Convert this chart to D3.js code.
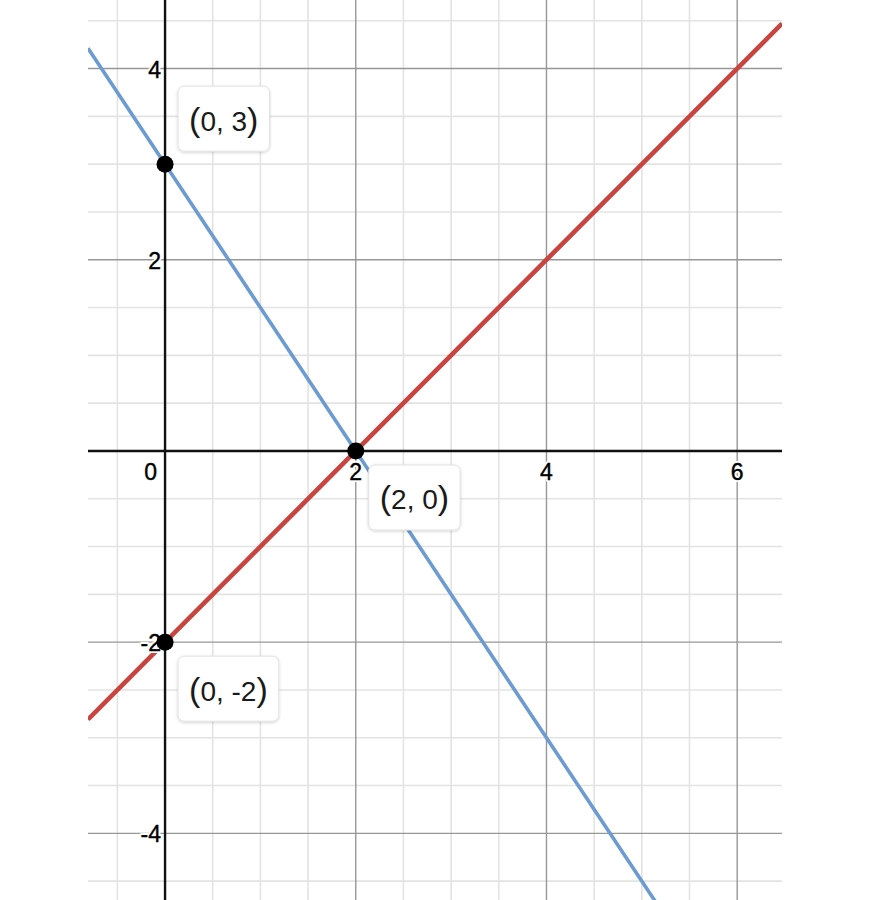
<!DOCTYPE html>
<html>
<head>
<meta charset="utf-8">
<script src="https://cdn.jsdelivr.net/npm/d3@7"></script>
<style>
  body { margin: 0; background: #fff; }
</style>
</head>
<body>
<script>
// view window (graph units)
var xDomain = [-0.808, 6.47];
var yDomain = [4.717, -4.697];

var xTicks = [0, 2, 4, 6];
var yTicks = [4, 2, -2, -4];

// lines y = m*x + b
var lineNames = ["blue", "red"];
var slopes = [-1.5, 1];
var intercepts = [3, -2];
var lineColors = ["#6b9bd1", "#c9433f"];
var lineWidths = [3.6, 4.6];

// labelled points
var pointX = [0, 2, 0];
var pointY = [3, 0, -2];
var pointText = ["0, 3", "2, 0", "0, -2"];
var pointSide = ["above", "below", "below"];

var W = 870, H = 900;
var left = 88, right = 782;
var font = "'Liberation Sans', Arial, sans-serif";

var x = d3.scaleLinear().domain(xDomain).range([left, right]);
var y = d3.scaleLinear().domain(yDomain).range([0, H]);

var svg = d3.select("body").append("svg")
    .attr("width", W)
    .attr("height", H);

var defs = svg.append("defs");
defs.append("clipPath").attr("id", "clip")
    .append("rect").attr("x", left).attr("y", 0).attr("width", right - left).attr("height", H);
var f = defs.append("filter").attr("id", "shadow").attr("x", "-20%").attr("y", "-20%").attr("width", "140%").attr("height", "140%");
f.append("feDropShadow").attr("dx", 0).attr("dy", 1).attr("stdDeviation", 1.5).attr("flood-color", "#000").attr("flood-opacity", 0.18);

var plot = svg.append("g").attr("clip-path", "url(#clip)");

// minor grid every 0.5
var minorX = d3.range(-0.5, 6.51, 0.5).filter(function(v) { return v % 2 !== 0; });
var minorY = d3.range(-4.5, 4.51, 0.5).filter(function(v) { return v % 2 !== 0; });
var majorX = [-2, 2, 4, 6];
var majorY = [-4, -2, 2, 4];

plot.append("g").selectAll("line")
    .data(minorX)
    .enter().append("line")
    .attr("x1", function(d) { return x(d); })
    .attr("x2", function(d) { return x(d); })
    .attr("y1", 0).attr("y2", H)
    .attr("stroke", "#e3e3e3").attr("stroke-width", 1.6);

plot.append("g").selectAll("line")
    .data(minorY)
    .enter().append("line")
    .attr("y1", function(d) { return y(d); })
    .attr("y2", function(d) { return y(d); })
    .attr("x1", left).attr("x2", right)
    .attr("stroke", "#e3e3e3").attr("stroke-width", 1.6);

plot.append("g").selectAll("line")
    .data(majorX)
    .enter().append("line")
    .attr("x1", function(d) { return x(d); })
    .attr("x2", function(d) { return x(d); })
    .attr("y1", 0).attr("y2", H)
    .attr("stroke", "#979797").attr("stroke-width", 1.4);

plot.append("g").selectAll("line")
    .data(majorY)
    .enter().append("line")
    .attr("y1", function(d) { return y(d); })
    .attr("y2", function(d) { return y(d); })
    .attr("x1", left).attr("x2", right)
    .attr("stroke", "#979797").attr("stroke-width", 1.4);

// axes
plot.append("line")
    .attr("x1", left).attr("x2", right)
    .attr("y1", y(0)).attr("y2", y(0))
    .attr("stroke", "#111").attr("stroke-width", 2.4);
plot.append("line")
    .attr("x1", x(0)).attr("x2", x(0))
    .attr("y1", 0).attr("y2", H)
    .attr("stroke", "#111").attr("stroke-width", 2.4);

// the two lines
var lines = lineNames.map(function(n, i) { return { m: slopes[i], b: intercepts[i], c: lineColors[i], w: lineWidths[i] }; });
plot.append("g").selectAll("line")
    .data(lines)
    .enter().append("line")
    .attr("x1", x(xDomain[0])).attr("x2", x(xDomain[1]))
    .attr("y1", function(d) { return y(d.m * xDomain[0] + d.b); })
    .attr("y2", function(d) { return y(d.m * xDomain[1] + d.b); })
    .attr("stroke", function(d) { return d.c; })
    .attr("stroke-width", function(d) { return d.w; });

// tick labels: white halo copy underneath, black copy on top
function tickText(g, data, px, py, anchor, label) {
    ["halo", "fill"].forEach(function(layer) {
        g.append("g").selectAll("text")
            .data(data)
            .enter().append("text")
            .attr("x", px)
            .attr("y", py)
            .attr("text-anchor", anchor)
            .attr("font-family", font)
            .attr("font-size", 23)
            .attr("fill", layer === "halo" ? "#fff" : "#000")
            .attr("stroke", layer === "halo" ? "#fff" : "#000")
            .attr("stroke-width", layer === "halo" ? 4 : 0.4)
            .attr("stroke-linejoin", "round")
            .text(label);
    });
}

tickText(svg.append("g"), xTicks,
    function(d) { return d === 0 ? x(d) - 8 : x(d); },
    y(0) + 29,
    function(d) { return d === 0 ? "end" : "middle"; },
    function(d) { return d; });

tickText(svg.append("g"), yTicks,
    x(0) - 4,
    function(d) { return y(d) + 9; },
    "end",
    function(d) { return d < 0 ? "-" + Math.abs(d) : d; });

// point labels (boxes)
var pts = pointX.map(function(v, i) { return { x: pointX[i], y: pointY[i], t: pointText[i], side: pointSide[i] }; });

var lab = svg.append("g").selectAll("g")
    .data(pts)
    .enter().append("g");

lab.each(function(d) {
    var g = d3.select(this);
    var txt = g.append("text")
        .attr("font-family", font)
        .attr("font-size", 28)
        .attr("fill", "#1a1a1a");
    txt.append("tspan").attr("font-size", 34).text("(");
    txt.append("tspan").text(d.t);
    txt.append("tspan").attr("font-size", 34).text(")");
    var bw = txt.node().getComputedTextLength() + 22;
    var bh = 65;
    var bx = x(d.x) + 13;
    var by = d.side === "above" ? y(d.y) - 13 - bh : y(d.y) + 14;
    g.insert("rect", "text")
        .attr("x", bx).attr("y", by)
        .attr("width", bw).attr("height", bh)
        .attr("rx", 6)
        .attr("fill", "#fff")
        .attr("stroke", "#e2e2e2")
        .attr("filter", "url(#shadow)");
    txt.attr("x", bx + bw / 2)
        .attr("y", by + bh / 2 + 12)
        .attr("text-anchor", "middle");
});

// points
svg.append("g").selectAll("circle")
    .data(pts)
    .enter().append("circle")
    .attr("cx", function(d) { return x(d.x); })
    .attr("cy", function(d) { return y(d.y); })
    .attr("r", 8.5)
    .attr("fill", "#000");
</script>
</body>
</html>
